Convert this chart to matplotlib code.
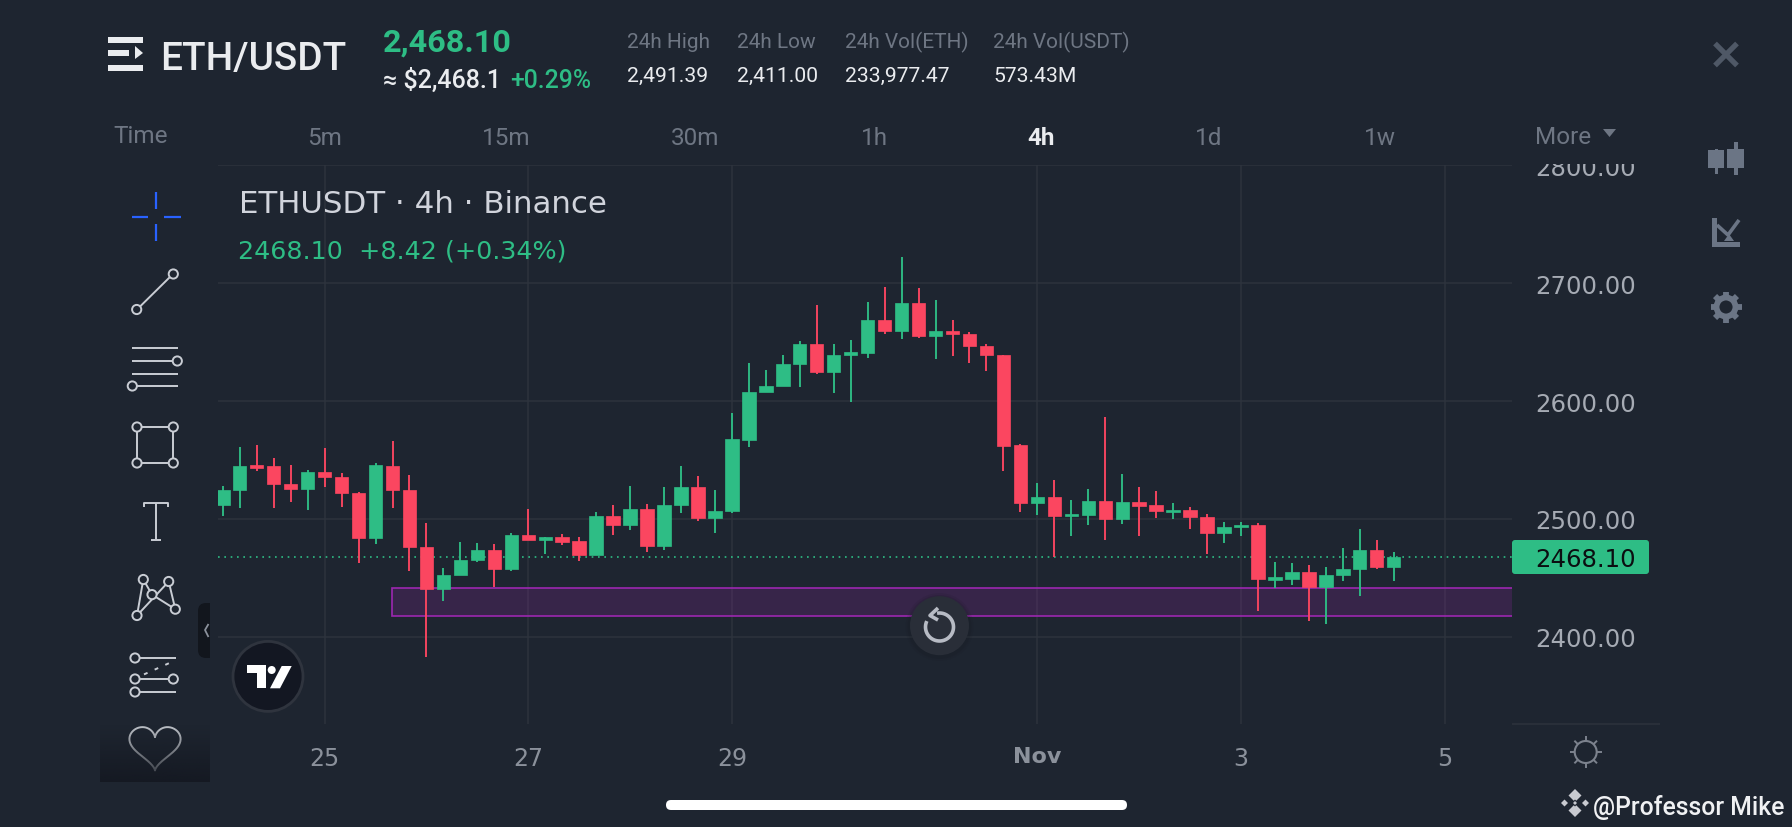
import matplotlib
matplotlib.use("Agg")
import matplotlib.pyplot as plt
import numpy as np
from matplotlib.patches import Circle, FancyBboxPatch, Polygon, Rectangle
from matplotlib.transforms import Bbox, TransformedBbox, IdentityTransform

plt.rcParams['font.family'] = ['Roboto', 'DejaVu Sans']

# candles, 4h each, oldest first
opens = [2512.1, 2524.2, 2545.7, 2544.6, 2529.6, 2525.4, 2539.8, 2535.6, 2522.0, 2483.8,
         2545.2, 2524.8, 2476.1, 2440.5, 2452.1, 2465.1, 2473.3, 2457.4, 2486.3, 2482.1,
         2484.3, 2480.9, 2469.6, 2502.2, 2494.8, 2508.1, 2477.3, 2511.5, 2527.4, 2500.7,
         2506.4, 2567.3, 2607.7, 2612.8, 2631.5, 2648.5, 2624.4, 2638.9, 2641.1, 2668.6,
         2659.2, 2683.0, 2655.0, 2659.5, 2657.0, 2646.8, 2638.8, 2562.4, 2513.6, 2518.9,
         2502.5, 2503.4, 2515.3, 2499.7, 2514.7, 2511.6, 2505.9, 2507.4, 2502.0, 2488.4,
         2492.9, 2494.4, 2448.3, 2449.2, 2454.5, 2442.4, 2452.5, 2457.3, 2473.5, 2459.0]
closes = [2524.8, 2544.6, 2543.5, 2529.6, 2525.7, 2540.1, 2535.6, 2521.7, 2484.1, 2545.5,
          2524.8, 2476.1, 2440.5, 2452.4, 2465.4, 2473.3, 2457.4, 2486.3, 2482.1, 2484.3,
          2480.7, 2469.6, 2502.2, 2494.8, 2508.1, 2477.3, 2511.8, 2527.4, 2500.7, 2506.7,
          2567.5, 2607.7, 2613.1, 2631.8, 2648.5, 2624.4, 2638.9, 2641.4, 2668.6, 2659.2,
          2683.0, 2655.0, 2659.5, 2656.7, 2646.5, 2638.9, 2562.0, 2513.6, 2518.9, 2502.5,
          2504.2, 2515.3, 2499.7, 2514.7, 2511.0, 2506.5, 2507.6, 2501.7, 2488.4, 2492.9,
          2494.4, 2449.4, 2450.9, 2454.5, 2442.4, 2452.8, 2457.6, 2473.5, 2459.0, 2467.5]
highs = [2528.2, 2560.7, 2562.7, 2551.4, 2545.7, 2541.8, 2559.9, 2538.7, 2522.5, 2547.2,
         2566.4, 2537.0, 2496.5, 2458.0, 2480.1, 2479.2, 2478.7, 2488.3, 2508.1, 2484.3,
         2487.2, 2484.3, 2505.6, 2511.8, 2527.9, 2512.4, 2526.8, 2544.6, 2536.1, 2524.2,
         2589.9, 2632.1, 2626.4, 2638.9, 2651.0, 2681.6, 2648.2, 2651.6, 2683.8, 2696.6,
         2722.6, 2695.7, 2685.8, 2668.9, 2658.4, 2648.5, 2639.5, 2563.9, 2530.2, 2533.3,
         2516.4, 2525.4, 2586.5, 2538.4, 2527.1, 2523.5, 2513.8, 2510.5, 2504.2, 2497.7,
         2497.7, 2496.3, 2463.6, 2462.4, 2460.5, 2459.3, 2475.7, 2491.0, 2482.2, 2472.3]
lows = [2502.7, 2509.0, 2540.9, 2509.0, 2514.0, 2507.8, 2527.1, 2510.4, 2462.3, 2479.0,
        2509.0, 2456.0, 2383.0, 2430.6, 2452.1, 2463.4, 2442.5, 2456.0, 2482.1, 2470.2,
        2478.1, 2464.5, 2469.6, 2486.3, 2490.8, 2471.6, 2473.6, 2505.3, 2498.5, 2488.3,
        2505.3, 2561.3, 2607.7, 2612.8, 2611.7, 2623.3, 2606.9, 2599.5, 2636.3, 2657.2,
        2653.0, 2653.9, 2635.7, 2638.0, 2632.1, 2625.6, 2541.0, 2506.2, 2503.4, 2467.8,
        2485.6, 2494.4, 2481.9, 2495.5, 2485.6, 2500.9, 2499.7, 2491.2, 2470.1, 2479.4,
        2485.6, 2422.0, 2441.5, 2444.1, 2413.6, 2411.0, 2447.5, 2434.7, 2457.1, 2447.5]

last_price = 2467.6
zone_top = 2441.0
zone_bottom = 2417.5
zone_start = 9.95

price_ticks = [2400, 2500, 2600, 2700, 2800]
date_ticks = [6, 18, 30, 48, 60, 72]
date_labels = ['25', '27', '29', 'Nov', '3', '5']

stat_names = ['24h High', '24h Low', '24h Vol(ETH)', '24h Vol(USDT)']
stat_values = ['2,491.39', '2,411.00', '233,977.47', '573.43M']
intervals = ['5m', '15m', '30m', '1h', '4h', '1d', '1w']

BG = '#1e2530'
GRID = '#2d333d'
GREEN = '#2ebd85'
RED = '#fb4660'
MUTED = '#6e7683'
W, H = 1792, 828

fig = plt.figure(figsize=(W / 100, H / 100), dpi=100, facecolor=BG)

# chart area, placed by pixel
ax = fig.add_axes([218 / W, 1 - 725 / H, (1512 - 218) / W, (725 - 166) / H], facecolor=BG)
ax.set_xlim(-0.283, 75.97)
ax.set_ylim(2325.9, 2800.4)
for s in ax.spines.values():
    s.set_visible(False)
ax.set_axisbelow(True)
ax.grid(True, color=GRID, lw=1.1)
ax.yaxis.tick_right()
ax.set_yticks(price_ticks, ['%.2f' % p for p in price_ticks])
ax.set_xticks(date_ticks, date_labels)
ax.tick_params(axis='y', length=0, pad=16.5, labelsize=17.6, labelcolor='#a6abb4', labelfontfamily='DejaVu Sans')
ax.tick_params(axis='x', length=0, pad=15.5, labelsize=17, labelcolor='#8b919b', labelfontfamily='DejaVu Sans')
for lab in ax.get_xticklabels():
    if lab.get_text() == 'Nov':
        lab.set_fontweight('bold')
        lab.set_fontsize(16)
# the 2800 label is cut off by the header
clip = TransformedBbox(Bbox([[0, 0], [W, H - 165]]), IdentityTransform())
for lab in ax.get_yticklabels():
    lab.set_clip_on(True)
    lab.set_clip_box(clip)

x = np.arange(len(opens))
o = np.array(opens)
c = np.array(closes)
colors = [GREEN if b >= a else RED for a, b in zip(opens, closes)]

ax.add_patch(Rectangle((zone_start, zone_bottom), 80, zone_top - zone_bottom,
                       facecolor='#9c27b0', alpha=0.2, edgecolor='none', zorder=2))
ax.add_patch(Rectangle((zone_start, zone_bottom), 80, zone_top - zone_bottom,
                       facecolor='none', edgecolor='#9c27b0', lw=1.2, zorder=2.1))
ax.axhline(last_price, color=GREEN, lw=1.2, ls=(0, (1, 2.8)), zorder=2.5)
ax.vlines(x, lows, highs, colors=colors, lw=1.35, zorder=3)
ax.bar(x, c - o, bottom=o, width=0.79, color=colors, edgecolor=colors, lw=0.5, zorder=3.5)

# everything else is app chrome, drawn in pixel coordinates
ui = fig.add_axes([0, 0, 1, 1], facecolor='none', zorder=5)
ui.set_xlim(0, W)
ui.set_ylim(H, 0)
ui.axis('off')


def line(xs, ys, color='#c9cdd4', lw=1.4, **kw):
    ui.plot(xs, ys, color=color, lw=lw, solid_capstyle=kw.pop('cap', 'butt'), **kw)


def node(cx, cy, r=4.6):
    ui.add_patch(Circle((cx, cy), r, facecolor=BG, edgecolor='#c9cdd4', lw=1.4, zorder=4))


def label(px, py, s, size, color, ha='left', weight='normal', family=None):
    ui.text(px, py, s, fontsize=size, color=color, ha=ha, va='center_baseline', fontweight=weight,
            family=family or ['Roboto', 'DejaVu Sans'])


# header
for y0, x1 in [(38, 143), (51, 129), (66, 143)]:
    ui.add_patch(Rectangle((108, y0), x1 - 108, 6, color='#eaecef', lw=0))
ui.add_patch(Polygon([(135, 47), (143, 54), (135, 60)], color='#eaecef', lw=0))
label(160, 56, 'ETH/USDT', 27.9, '#eaecef', weight='medium')
label(383, 40, '2,468.10', 23.3, GREEN, weight='bold')
label(383, 78, '≈ $2,468.1', 18, '#eaecef', weight='medium')
label(510, 78, '+0.29%', 17.8, GREEN, weight='medium')

stat_x = [627, 737, 845, 993]
for sx, name, value in zip(stat_x, stat_names, stat_values):
    label(sx, 40, name, 15, MUTED)
    label(sx, 74, value, 15.2, '#eaecef')

interval_x = [325, 506, 695, 874, 1041, 1209, 1380]
label(113, 134, 'Time', 17.5, MUTED)
for ix, name in zip(interval_x, intervals):
    if name == '4h':
        label(ix, 136, name, 17.5, '#eaecef', ha='center', weight='bold')
    else:
        label(ix, 136, name, 17.5, MUTED, ha='center')
label(1535, 135, 'More', 17.5, MUTED)
ui.add_patch(Polygon([(1603, 130), (1616, 130), (1609.5, 138)], color=MUTED, lw=0))

label(239, 202, 'ETHUSDT · 4h · Binance', 22.2, '#d1d4dc', family='DejaVu Sans')
label(238, 249, '2468.10  +8.42 (+0.34%)', 18.3, GREEN, family='DejaVu Sans')

# price tag
ui.add_patch(FancyBboxPatch((1512, 541), 137, 34, boxstyle='round,pad=0,rounding_size=3', color=GREEN, lw=0))
label(1535, 558, '2468.10', 17.6, '#0b0e11', family='DejaVu Sans')

# bottom rule runs on past the chart
line([1512, 1660], [725, 725], color=GRID, lw=1.1)

# left toolbar
line([156, 156], [193, 210], color='#2962ff', lw=1.6)
line([156, 156], [225, 242], color='#2962ff', lw=1.6)
line([132, 148], [217.5, 217.5], color='#2962ff', lw=1.6)
line([164, 181], [217.5, 217.5], color='#2962ff', lw=1.6)

line([137, 173], [310.5, 275])
node(173.3, 275)
node(136.7, 310.5)

for ly in [349, 362, 374.5, 387]:
    line([132, 178], [ly, ly])
node(177.3, 362)
node(132.3, 387)

line([137, 173.3, 173.3, 137, 137], [428, 428, 464, 464, 428])
for nx, ny in [(137, 428), (173.3, 428), (137, 464), (173.3, 464)]:
    node(nx, ny)

line([156, 156], [504, 540])
line([144, 144, 168, 168], [508, 504, 504, 508])
line([151, 161], [540.5, 540.5])

line([137, 143.3], [616.5, 580.5])
line([143.3, 152, 175.3, 168.7, 137], [580.5, 595.6, 610.2, 582.5, 616.5])
for nx, ny in [(137, 616.5), (143.3, 580.5), (152, 595.6), (168.7, 582.5), (175.3, 610.2)]:
    node(nx, ny)

line([135, 176], [659, 659])
line([135, 173], [680, 680])
line([135, 176], [693, 693])
line([144, 173], [675.4, 662.4], ls=(0, (2, 4)))
for nx, ny in [(135, 659), (135, 680), (173.3, 680), (135, 693)]:
    node(nx, ny)

# heart button, strip on top fades it out
t = np.linspace(0, 2 * np.pi, 200)
hx = 155 + 1.6 * 16 * np.sin(t) ** 3
hy = 746 - 1.5 * (13 * np.cos(t) - 5 * np.cos(2 * t) - 2 * np.cos(3 * t) - np.cos(4 * t))
line(hx, hy, color='#bfc3c9', lw=1.4, zorder=2)
fade = np.zeros((40, 1, 4))
fade[:, 0, :3] = matplotlib.colors.to_rgb('#141821')
fade[:, 0, 3] = np.linspace(0, 0.88, 40)
ui.imshow(fade, extent=(100, 210, 783, 725), aspect='auto', zorder=3)
ui.set_xlim(0, W)
ui.set_ylim(H, 0)

ui.add_patch(FancyBboxPatch((198, 604), 20, 55, boxstyle='round,pad=0,rounding_size=8', color='#12161d', lw=0))
ui.add_patch(Rectangle((210, 600), 8, 63, color=BG, lw=0))
line([208.5, 205, 208.5], [625, 631, 638], color='#8b919b', lw=1.3)

# TradingView badge
ui.add_patch(Circle((268, 677.4), 35, facecolor='#131722', edgecolor='#2f343e', lw=2))
ui.add_patch(Polygon([(246.7, 666.4), (266, 666.4), (266, 689.3), (256.7, 689.3), (256.7, 674.3), (246.7, 674.3)],
                     color='white', lw=0))
ui.add_patch(Circle((271.7, 671), 4, color='white', lw=0))
ui.add_patch(Polygon([(281.7, 667), (291.7, 667), (280, 689.3), (270, 689.3)], color='white', lw=0))

# reset button
for r, a in [(34, 0.10), (32, 0.15)]:
    ui.add_patch(Circle((939.5, 628), r, color='#15191f', alpha=a, lw=0))
ui.add_patch(Circle((939.5, 626.7), 29.5, color='#292e38', lw=0))
a = np.radians(np.linspace(-100, 205, 60))
line(939.5 + 14 * np.cos(a), 628 + 14 * np.sin(a), color='#b7bbc4', lw=2.6)
line([938, 930, 938], [609, 616.5, 621], color='#b7bbc4', lw=2.6)

# right toolbar
ICON = '#6b7585'
line([1715, 1737], [44.5, 66.5], color='#4f5866', lw=3.8)
line([1737, 1715], [44.5, 66.5], color='#4f5866', lw=3.8)
ui.add_patch(Rectangle((1708, 151), 16, 18, color=ICON, lw=0))
ui.add_patch(Rectangle((1714.5, 150), 3, 25, color=ICON, lw=0))
ui.add_patch(Rectangle((1727, 150), 17, 19, color=ICON, lw=0))
ui.add_patch(Rectangle((1734, 143), 3.5, 33, color=ICON, lw=0))

ui.add_patch(Polygon([(1712, 219), (1717, 219), (1717, 243), (1740, 243), (1740, 248), (1712, 248)], color=ICON, lw=0))
line([1717, 1728, 1739], [226, 236, 221], color=ICON, lw=2.6)
ui.add_patch(Polygon([(1724, 242), (1729, 235), (1734, 242)], color=ICON, lw=0))

for ang in np.arange(0, 360, 45):
    ca, sa = np.cos(np.radians(ang)), np.sin(np.radians(ang))
    line([1726 + 10 * ca, 1726 + 15.5 * ca], [308 + 10 * sa, 308 + 15.5 * sa], color=ICON, lw=4.2)
ui.add_patch(Circle((1726, 308), 9.5, facecolor=BG, edgecolor=ICON, lw=4.2))

# theme toggle
ui.add_patch(Circle((1585.7, 753), 11, facecolor='none', edgecolor='#7c828d', lw=1.5))
for ang in np.arange(0, 360, 45):
    ca, sa = np.cos(np.radians(ang)), np.sin(np.radians(ang))
    line([1585.7 + 11 * ca, 1585.7 + 16 * ca], [753 + 11 * sa, 753 + 16 * sa], color='#7c828d', lw=1.4)

# home bar and watermark
ui.add_patch(FancyBboxPatch((666, 801), 461, 10, boxstyle='round,pad=0,rounding_size=5', color='white', lw=0))
for dx, dy, d in [(0, -7.5, 6.5), (-10.5, 0, 3.5), (10.5, 0, 3.5), (0, 7.5, 6.5)]:
    ui.add_patch(Polygon([(1575 + dx, 804 + dy - d), (1575 + dx + d, 804 + dy),
                          (1575 + dx, 804 + dy + d), (1575 + dx - d, 804 + dy)], color='#c8cad0', lw=0))
ui.add_patch(Polygon([(1575, 800.5), (1578.5, 804), (1575, 807.5), (1571.5, 804)], color=BG, lw=0))
ui.add_patch(Polygon([(1575, 802), (1577, 804), (1575, 806), (1573, 804)], color='#c8cad0', lw=0))
label(1593, 805, '@Professor Mike', 17.8, '#f0f1f3', weight='medium')

fig.savefig('out.png', dpi=100, facecolor=BG)
